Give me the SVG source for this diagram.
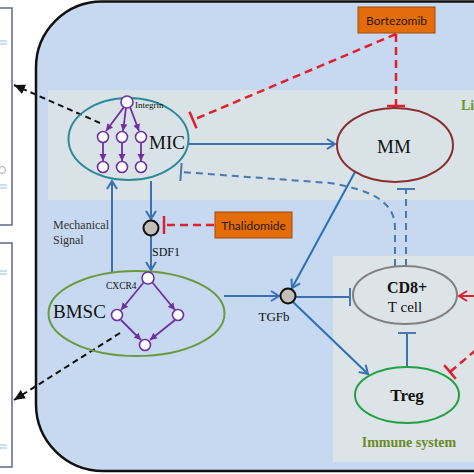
<svg xmlns="http://www.w3.org/2000/svg" width="474" height="474" viewBox="0 0 474 474">
<defs>
<style>
.serif{font-family:"Liberation Serif","Times New Roman",serif;fill:#111}
.sans{font-family:"Lato","Liberation Sans",Arial,sans-serif;fill:#2a1a0a}
.blue{stroke:#3b70b3;stroke-width:2;fill:none}
.bdash{stroke:#4a78b0;stroke-width:2;fill:none;stroke-dasharray:7,5}
.rdash{stroke:#e0202e;stroke-width:2.5;fill:none;stroke-dasharray:8,5}
.kdash{stroke:#111;stroke-width:2;fill:none;stroke-dasharray:6,4}
.pur{stroke:#7030a0;stroke-width:1.8;fill:none}
.pnode{stroke:#7030a0;stroke-width:1.6;fill:#fff}
.drug{fill:#e46c0a;stroke:#a04a10;stroke-width:1}
.sig{fill:#c4beb9;stroke:#111;stroke-width:2}
.eq{stroke:#8cc4e4;stroke-width:1}
</style>
<marker id="ab" markerWidth="12" markerHeight="12" refX="9" refY="6" orient="auto" markerUnits="userSpaceOnUse"><path d="M1,1 L9,6 L1,11" fill="none" stroke="#3b70b3" stroke-width="2"/></marker>
<marker id="ar" markerWidth="12" markerHeight="12" refX="9" refY="6" orient="auto" markerUnits="userSpaceOnUse"><path d="M1,1 L9,6 L1,11" fill="none" stroke="#e0202e" stroke-width="2"/></marker>
<marker id="ap" markerWidth="8" markerHeight="8" refX="7" refY="4" orient="auto" markerUnits="userSpaceOnUse"><path d="M0,0.5 L7,4 L0,7.5 Z" fill="#7030a0"/></marker>
<marker id="ak" markerWidth="12" markerHeight="12" refX="11" refY="6" orient="auto" markerUnits="userSpaceOnUse"><path d="M0,1 L11,6 L0,11 Z" fill="#111"/></marker>
<marker id="tb" markerWidth="4" markerHeight="22" refX="2" refY="11" orient="auto" markerUnits="userSpaceOnUse"><path d="M2,2 L2,20" stroke="#4a78b0" stroke-width="2"/></marker>
<marker id="tr" markerWidth="4" markerHeight="22" refX="2" refY="11" orient="auto" markerUnits="userSpaceOnUse"><path d="M2,2 L2,20" stroke="#e0202e" stroke-width="2.5"/></marker>
</defs>
<rect width="474" height="474" fill="#fff"/>
<!-- left panels -->
<g id="panel1"><rect x="-4" y="8" width="16" height="217" fill="#fff" stroke="#5b6b8c" stroke-width="1.5"/>
<path class="eq" d="M0,41 H7 M0,44 H7 M0,185 H7 M0,188 H7"/><circle cx="2" cy="170" r="3.5" fill="none" stroke="#aaa"/></g>
<g id="panel2"><rect x="-4" y="243" width="16" height="224" fill="#fff" stroke="#5b6b8c" stroke-width="1.5"/>
<path class="eq" d="M0,271 H7 M0,274 H7 M0,445 H7 M0,448 H7"/></g>
<!-- main compartment -->
<path d="M480,1.5 H102 A66,66 0 0 0 36,67.5 V404 A67,67 0 0 0 103,471 H480" fill="#c6d9f0" stroke="#111" stroke-width="2.5"/>
<rect x="48" y="90" width="430" height="110" fill="#d9e3e7"/>
<rect x="333" y="256" width="145" height="206" fill="#dce4e8"/>
<text x="461" y="110" style="font-family:'Liberation Serif',serif;font-weight:bold;font-size:14px;fill:#6b9a2a">Li</text>
<text x="409" y="447" text-anchor="middle" style="font-family:'Liberation Serif',serif;font-weight:bold;font-size:14px;fill:#6b8a2a">Immune system</text>
<!-- connectors -->
<g id="connectors">
<line class="blue" x1="188" y1="144" x2="335" y2="144" marker-end="url(#ab)"/>
<line class="blue" x1="151" y1="181" x2="151" y2="219" marker-end="url(#ab)"/>
<line class="blue" x1="151" y1="236" x2="151" y2="270" marker-end="url(#ab)"/>
<line class="blue" x1="112" y1="272" x2="112" y2="181" marker-end="url(#ab)"/>
<line class="blue" x1="224" y1="296" x2="279" y2="296" marker-end="url(#ab)"/>
<line class="blue" x1="355" y1="172" x2="292" y2="288" marker-end="url(#ab)" style="stroke:#2a70b8"/>
<line class="blue" x1="295" y1="297" x2="350" y2="297" marker-end="url(#tb)"/>
<line class="blue" x1="293" y1="302" x2="368" y2="374" marker-end="url(#ab)" style="stroke:#2a70b8"/>
<line class="blue" x1="407" y1="367" x2="407" y2="333" marker-end="url(#tb)"/>
<path class="bdash" d="M395,266 V228 C395,202 372,190 330,183 L181,172" marker-end="url(#tb)"/>
<line class="bdash" x1="406" y1="266" x2="406" y2="189" marker-end="url(#tb)"/>
<line class="rdash" x1="396" y1="34" x2="193" y2="120" marker-end="url(#tr)"/>
<line class="rdash" x1="396" y1="34" x2="396" y2="106" marker-end="url(#tr)"/>
<line class="rdash" x1="214" y1="225" x2="164" y2="225" marker-end="url(#tr)"/>
<line class="rdash" x1="476" y1="350" x2="450" y2="372" marker-end="url(#tr)"/>
<line x1="476" y1="296" x2="459" y2="296" stroke="#e0202e" stroke-width="2" marker-end="url(#ar)"/>
<line class="kdash" x1="100" y1="123" x2="14" y2="85" marker-end="url(#ak)"/>
<line class="kdash" x1="120" y1="333" x2="14" y2="400" marker-end="url(#ak)"/>
</g>
<!-- nodes -->
<g id="MIC">
<ellipse cx="128.5" cy="139" rx="60" ry="41" fill="none" stroke="#2e8a98" stroke-width="2"/>
<path class="pur" d="M124,107 L106,131" marker-end="url(#ap)"/>
<path class="pur" d="M126,108 L123,131" marker-end="url(#ap)"/>
<path class="pur" d="M130,107 L139,131" marker-end="url(#ap)"/>
<path class="pur" d="M103,143 V161" marker-end="url(#ap)"/>
<path class="pur" d="M122,143 V161" marker-end="url(#ap)"/>
<path class="pur" d="M141,143 V161" marker-end="url(#ap)"/>
<circle class="pnode" cx="127" cy="102" r="6"/>
<circle class="pnode" cx="103" cy="137" r="5.5"/><circle class="pnode" cx="122" cy="137" r="5.5"/><circle class="pnode" cx="141" cy="137" r="5.5"/>
<circle class="pnode" cx="103" cy="167" r="5.5"/><circle class="pnode" cx="122" cy="167" r="5.5"/><circle class="pnode" cx="141" cy="167" r="5.5"/>
<text class="serif" x="135" y="108" style="font-size:9px">Integrin</text>
<text class="serif" x="149" y="149" style="font-size:19px">MIC</text>
</g>
<g id="MM"><ellipse cx="395" cy="145" rx="58" ry="37" fill="none" stroke="#8b2e2e" stroke-width="2"/>
<text class="serif" x="394" y="153" text-anchor="middle" style="font-size:19px">MM</text></g>
<g id="Bortezomib"><rect class="drug" x="358" y="7" width="77" height="26"/>
<text class="sans" x="396.5" y="24.5" text-anchor="middle" style="font-size:12px">Bortezomib</text></g>
<g id="Thalidomide"><rect class="drug" x="215" y="212" width="77" height="26"/>
<text class="sans" x="253.5" y="229.5" text-anchor="middle" style="font-size:12px">Thalidomide</text></g>
<g id="SDF1"><circle class="sig" cx="151" cy="228" r="7.5"/>
<text class="serif" x="152" y="256" style="font-size:12px">SDF1</text></g>
<g id="TGFb"><circle class="sig" cx="288" cy="296" r="7.5"/>
<text class="serif" x="274" y="321" text-anchor="middle" style="font-size:13px">TGFb</text></g>
<g id="MechanicalSignal"><text class="serif" x="53" y="229" style="font-size:12px;fill:#333">Mechanical</text>
<text class="serif" x="53" y="244" style="font-size:12px;fill:#333">Signal</text></g>
<g id="BMSC">
<ellipse cx="136.5" cy="313.5" rx="88" ry="42.5" fill="none" stroke="#6b9a3e" stroke-width="2"/>
<path class="pur" d="M144,282 L121,310" marker-end="url(#ap)"/>
<path class="pur" d="M152,282 L175,310" marker-end="url(#ap)"/>
<path class="pur" d="M121,320 L141,340" marker-end="url(#ap)"/>
<path class="pur" d="M175,320 L150,340" marker-end="url(#ap)"/>
<circle class="pnode" cx="148" cy="278" r="6"/>
<circle class="pnode" cx="117" cy="315" r="5.5"/><circle class="pnode" cx="178" cy="315" r="5.5"/>
<circle class="pnode" cx="145" cy="345" r="5.5"/>
<text class="serif" x="106" y="289" style="font-size:9.5px">CXCR4</text>
<text class="serif" x="53" y="318" style="font-size:19px">BMSC</text>
</g>
<g id="CD8"><ellipse cx="405" cy="295" rx="52" ry="29" fill="none" stroke="#808080" stroke-width="2"/>
<text class="serif" x="407" y="293" text-anchor="middle" style="font-size:16px;font-weight:bold">CD8+</text>
<text class="serif" x="405" y="312" text-anchor="middle" style="font-size:15px">T cell</text></g>
<g id="Treg"><ellipse cx="407" cy="395" rx="52" ry="28" fill="none" stroke="#22a044" stroke-width="2"/>
<text class="serif" x="407" y="401" text-anchor="middle" style="font-size:17px;font-weight:bold">Treg</text></g>
</svg>
